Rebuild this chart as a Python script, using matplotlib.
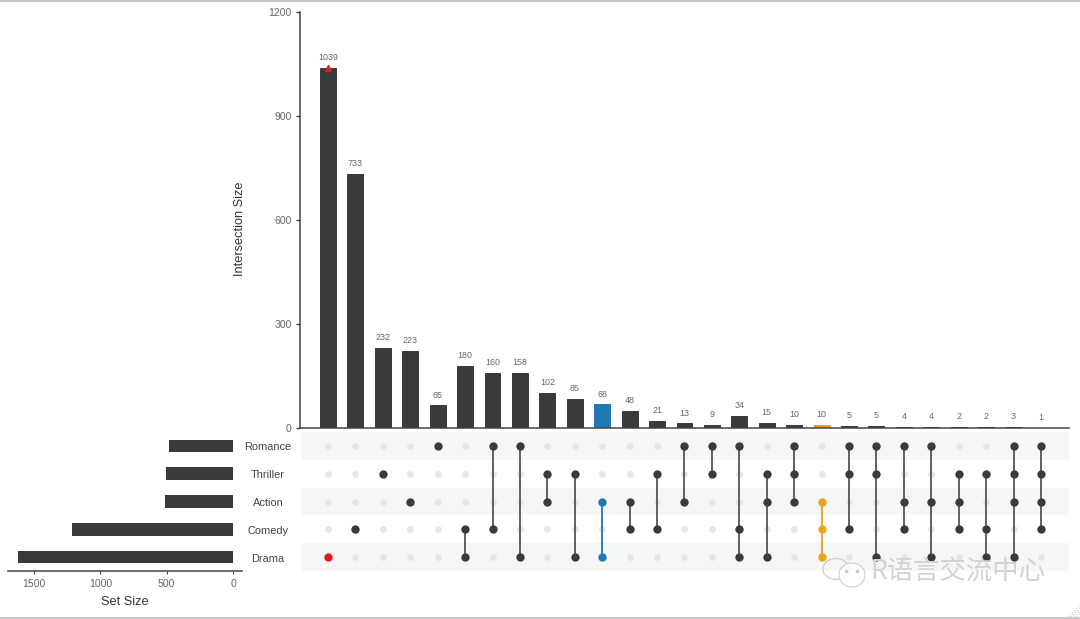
import matplotlib
matplotlib.use("Agg")
import matplotlib.pyplot as plt
from matplotlib.patches import Ellipse

plt.rcParams['font.family'] = ['Liberation Sans', 'DejaVu Sans']

W, H = 1080, 619

# data
sets = ["Romance", "Thriller", "Action", "Comedy", "Drama"]
set_sizes = [482, 505, 512, 1213, 1620]
intersection_sizes = [1039, 733, 232, 223, 65, 180, 160, 158, 102, 85, 68, 48, 21, 13, 9,
                      34, 15, 10, 10, 5, 5, 4, 4, 2, 2, 3, 1]
members = [
    ["Drama"], ["Comedy"], ["Thriller"], ["Action"], ["Romance"],
    ["Comedy", "Drama"], ["Romance", "Comedy"], ["Romance", "Drama"],
    ["Thriller", "Action"], ["Thriller", "Drama"], ["Action", "Drama"],
    ["Action", "Comedy"], ["Thriller", "Comedy"], ["Romance", "Action"],
    ["Romance", "Thriller"], ["Romance", "Comedy", "Drama"],
    ["Thriller", "Action", "Drama"], ["Romance", "Thriller", "Action"],
    ["Action", "Comedy", "Drama"], ["Romance", "Thriller", "Comedy"],
    ["Romance", "Thriller", "Drama"], ["Romance", "Action", "Comedy"],
    ["Romance", "Action", "Drama"], ["Thriller", "Action", "Comedy"],
    ["Thriller", "Comedy", "Drama"], ["Romance", "Thriller", "Action", "Drama"],
    ["Romance", "Thriller", "Action", "Comedy"],
]
highlight = {0: "#e41a1c", 10: "#1f78b4", 18: "#e8a317"}
y_ticks = [0, 300, 600, 900, 1200]
x_ticks = [0, 500, 1000, 1500]

DARK = "#3a3a3a"
GREY = "#666666"


def pixel_axes(fig, left, top, right, bottom):
    """ Axes placed with pixel edges measured from the top left corner """
    return fig.add_axes([left / W, 1 - bottom / H, (right - left) / W, (bottom - top) / H])


def clean(ax):
    for s in ax.spines.values():
        s.set_visible(False)


fig = plt.figure(figsize=(W / 100, H / 100), dpi=100)

# column / row geometry in pixels
col0, col_step = 328, 27.42
row0, row_step = 446, 27.75
xlim = ((300 - col0) / col_step, (1069 - col0) / col_step)
n = len(intersection_sizes)
xs = list(range(n))
bar_colors = [highlight.get(i, DARK) if i != 0 else DARK for i in xs]

#* intersection bars
ax = pixel_axes(fig, 300, 12, 1069, 428)
clean(ax)
ax.bar(xs, intersection_sizes, width=0.58, color=bar_colors, edgecolor=bar_colors, lw=0.7)
for x, v in zip(xs, intersection_sizes):
    ax.text(x, v + 17, str(v), ha="center", va="bottom", fontsize=6.4, color=GREY)
ax.plot([0], [intersection_sizes[0]], marker="^", ms=5, color="#e41a1c", clip_on=False)
ax.set_xlim(*xlim)
ax.set_ylim(0, 1200)
ax.set_xticks([])
ax.set_yticks(y_ticks)
for side in ["left", "bottom"]:
    ax.spines[side].set_visible(True)
    ax.spines[side].set_color("#444444")
    ax.spines[side].set_linewidth(1.1)
ax.tick_params(axis="y", labelsize=7.6, labelcolor=GREY, color="#444444", width=1.0, length=3, pad=3)
ax.patch.set_alpha(0)

#* membership matrix
mat = pixel_axes(fig, 300, 431, 1069, 573)
clean(mat)
mat.set_xlim(*xlim)
mat.set_ylim((573 - row0) / row_step, (431 - row0) / row_step)
mat.set_xticks([])
mat.set_yticks([])
for r in range(len(sets)):
    if r % 2 == 0:
        mat.axhspan(r - 0.5, r + 0.5, xmin=0.003, color="#f6f6f6", lw=0, zorder=0)
for i, group in enumerate(members):
    color = highlight.get(i, DARK)
    rows = [sets.index(g) for g in group]
    for r in range(len(sets)):
        if r not in rows:
            mat.scatter(i, r, s=24, color="#e6e6e6", lw=0, zorder=1)
    if len(rows) > 1:
        line_color = color if i in highlight else "#555555"
        mat.plot([i, i], [min(rows), max(rows)], color=line_color, lw=1.3, zorder=2)
    mat.scatter([i] * len(rows), rows, s=36, color=color, lw=0, zorder=3)

#* set size bars
left = pixel_axes(fig, 8, 431, 242, 571)
clean(left)
left.barh(range(len(sets)), set_sizes, height=0.46, color=DARK)
left.set_xlim((233 - 8) / 0.1327, (233 - 242) / 0.1327)
left.set_ylim((571 - row0) / row_step, (431 - row0) / row_step)
left.set_yticks([])
left.set_xticks(x_ticks)
left.spines["bottom"].set_visible(True)
left.spines["bottom"].set_color("#444444")
left.spines["bottom"].set_linewidth(1.1)
left.tick_params(axis="x", labelsize=7.6, labelcolor=GREY, color="#444444", length=2.5, pad=3)
left.patch.set_alpha(0)

#* overlay in pixel coordinates for labels, frame and watermark
over = fig.add_axes([0, 0, 1, 1])
over.set_xlim(0, W)
over.set_ylim(H, 0)
over.axis("off")
over.patch.set_alpha(0)
for r, name in enumerate(sets):
    over.text(268, row0 + r * row_step + 1.5, name, ha="center", va="center", fontsize=7.9, color="#444444")
over.text(240, 229, "Intersection Size", rotation=90, ha="center", va="center", fontsize=9.2, color="#333333")
over.text(125, 602, "Set Size", ha="center", va="center", fontsize=9.2, color="#333333")

over.plot([0, W], [0.5, 0.5], color="#c8c8c8", lw=1.5)
over.plot([0, W], [617.5, 617.5], color="#c8c8c8", lw=1.5)
for k in range(1, 5):
    over.plot([W - 3 * k, W], [617, 617 - 3 * k], color="#cfcfcf", lw=0.8, ls=":")

# WeChat watermark
over.add_patch(Ellipse((836, 569), 26, 21, fc="none", ec="#d0d0d0", lw=1, zorder=5))
over.add_patch(Ellipse((852, 575), 26, 24, fc="white", ec="#d0d0d0", lw=1, alpha=0.85, zorder=6))
over.plot([846, 857], [571, 571], ls="none", marker="o", ms=1.5, color="#c8c8c8", zorder=7)
over.text(958, 572, "R语言交流中心", ha="center", va="center", fontsize=19, color="#d2d2d2",
          family=["Noto Sans CJK SC", "DejaVu Sans"], zorder=7)

fig.savefig("out.png", dpi=100)
